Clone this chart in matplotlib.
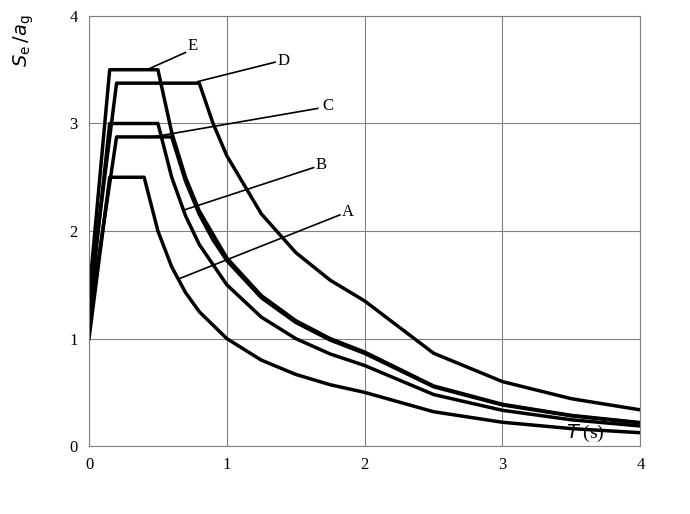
import matplotlib.pyplot as plt

plt.rcParams['font.family'] = ['Liberation Serif', 'DejaVu Serif']

# values (period T in s, Se/ag)
T_A = [0, 0.15, 0.4, 0.5, 0.6, 0.7, 0.8, 1.0, 1.25, 1.5, 1.75, 2.0, 2.5, 3.0, 3.5, 4.0]
A = [1.0, 2.5, 2.5, 2.0, 1.667, 1.429, 1.25, 1.0, 0.8, 0.667, 0.571, 0.5, 0.32, 0.222, 0.163, 0.125]
T_B = [0, 0.15, 0.5, 0.6, 0.7, 0.8, 1.0, 1.25, 1.5, 1.75, 2.0, 2.5, 3.0, 3.5, 4.0]
B = [1.2, 3.0, 3.0, 2.5, 2.143, 1.875, 1.5, 1.2, 1.0, 0.857, 0.75, 0.48, 0.333, 0.245, 0.1875]
T_C = [0, 0.2, 0.6, 0.7, 0.8, 0.9, 1.0, 1.25, 1.5, 1.75, 2.0, 2.5, 3.0, 3.5, 4.0]
C = [1.15, 2.875, 2.875, 2.464, 2.156, 1.917, 1.725, 1.38, 1.15, 0.986, 0.8625, 0.552, 0.383, 0.282, 0.216]
T_D = [0, 0.2, 0.8, 0.9, 1.0, 1.25, 1.5, 1.75, 2.0, 2.5, 3.0, 3.5, 4.0]
D = [1.35, 3.375, 3.375, 3.0, 2.7, 2.16, 1.8, 1.543, 1.35, 0.864, 0.6, 0.441, 0.3375]
T_E = [0, 0.15, 0.5, 0.6, 0.7, 0.8, 1.0, 1.25, 1.5, 1.75, 2.0, 2.5, 3.0, 3.5, 4.0]
E = [1.4, 3.5, 3.5, 2.917, 2.5, 2.1875, 1.75, 1.4, 1.167, 1.0, 0.875, 0.56, 0.389, 0.286, 0.219]

# label: (text pos, leader start, leader end)
labels = {
    'E': ((0.75, 3.72), (0.42, 3.5), (0.70, 3.66)),
    'D': ((1.41, 3.58), (0.79, 3.39), (1.35, 3.57)),
    'C': ((1.73, 3.16), (0.44, 2.87), (1.66, 3.14)),
    'B': ((1.68, 2.61), (0.70, 2.20), (1.63, 2.59)),
    'A': ((1.88, 2.18), (0.66, 1.56), (1.82, 2.15)),
}

fig = plt.figure(figsize=(6.9, 5.14), dpi=100)
ax = fig.add_axes([0.129, 0.132, 0.799, 0.837])

for t, s in [(T_A, A), (T_B, B), (T_C, C), (T_D, D), (T_E, E)]:
    ax.plot(t, s, color='black', lw=2.5)

for name, (tp, p0, p1) in labels.items():
    ax.plot([p0[0], p1[0]], [p0[1], p1[1]], color='black', lw=1.2)
    ax.text(tp[0], tp[1], name, fontsize=12, ha='center', va='center')

ax.set_xlim(0, 4)
ax.set_ylim(0, 4)
ax.set_xticks([0, 1, 2, 3, 4])
ax.set_yticks([0, 1, 2, 3, 4])
ax.grid(True, color='#808080', lw=0.8)
ax.tick_params(labelsize=12, length=0, pad=8)
for sp in ax.spines.values():
    sp.set_color('#808080')

fig.text(0.035, 0.92, r'$S_{\rm e}\,/a_{\rm g}$', rotation=90, fontsize=14,
         ha='center', va='center', family='DejaVu Serif')
ax.text(3.6, 0.12, r'$T$ (s)', fontsize=14, ha='center', va='center')

fig.savefig('out.png', dpi=100)
